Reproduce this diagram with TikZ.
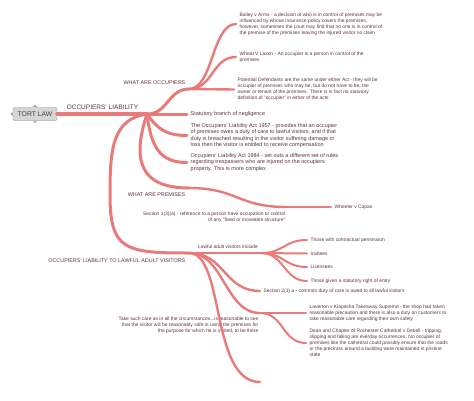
\documentclass[tikz,border=0pt]{standalone}
\usepackage{fontspec}
\setmainfont{Liberation Sans}
\definecolor{limbred}{RGB}{232,122,122}
\definecolor{inkred}{RGB}{92,52,60}
\definecolor{rootgrey}{RGB}{214,214,214}
\begin{document}
\begin{tikzpicture}
% 1pt = 1px of the 474x400 map, y runs downwards
[x=1pt,y=-1pt,line cap=round,
 limb/.style={draw=limbred,line width=#1},
 rootbox/.style={fill=rootgrey,draw=rootgrey!75!black,rounded corners=1.5pt,minimum width=44pt,minimum height=13.5pt,inner sep=0pt,text=black!72,font=\fontsize{6.8}{8}\selectfont},
 lblA/.style={anchor=east,inner sep=0pt,text=inkred,font=\fontsize{5.4}{6.4}\selectfont},
 lblB/.style={anchor=east,align=right,inner sep=0pt,text=inkred,font=\fontsize{4.9}{6.2}\selectfont},
 leafA/.style={anchor=west,align=left,inner xsep=3.5pt,inner ysep=0pt,text=inkred,font=\fontsize{5.5}{6.4}\selectfont},
 leafB/.style={anchor=west,align=left,inner xsep=3.5pt,inner ysep=0pt,text=inkred,font=\fontsize{4.9}{6.1}\selectfont}]
\useasboundingbox (0,0) rectangle (474,400);
% root
\node[rootbox] (tort) at (35,114) {TORT LAW};
\fill[rootgrey!70!black] (tort.west) ++(-0.3,-1.8) -- ++(-2,1.8) -- ++(2,1.8) -- cycle;
\fill[rootgrey!70!black] (tort.north) ++(-1.8,-0.3) -- ++(1.8,-2) -- ++(1.8,2) -- cycle;
\fill[rootgrey!70!black] (tort.south) ++(-1.8,0.3) -- ++(1.8,2) -- ++(1.8,-2) -- cycle;
% junctions
\coordinate (ol) at (147,114);
\coordinate (woc) at (189,89);
\coordinate (prem) at (189,188);
\coordinate (bend) at (110,195);
\coordinate (olv) at (189,253);
\coordinate (s13) at (286,207);
\coordinate (lav) at (261,253);
\coordinate (care) at (260,313);
\coordinate (tail) at (260,382);
% branch labels
\node[lblA,font=\fontsize{6.5}{7.5}\selectfont] (olt) at (138.5,107) {OCCUPIERS' LIABILITY};
\node[lblA] (woct) at (185.5,83) {WHAT ARE OCCUPIERS};
\node[lblA] (premt) at (185.5,195) {WHAT ARE PREMISES};
\node[lblA] (olvt) at (185.5,261) {OCCUPIERS' LIABILITY TO LAWFUL ADULT VISITORS};
\node[lblB] (s13t) at (285.5,217) {Section 1(3)(a) - reference to a person have occupation or control\\of any "fixed or moveable structure"};
\node[lblB] (lavt) at (258,247) {Lawful adult visitors include};
\node[lblB] (caret) at (258.5,325.5) {Take such care as in all the circumstances...is reasonable to see\\that the visitor will be reasonably safe in using the premises for\\the purpose for which he is invited, to be there};
% leaves
\node[leafB] (bailey) at (236,24) {Bailey v Arms - a decision of who is in control of premises may be\\influenced by whose insurance policy covers the premises,\\however, sometimes the court may find that no one is in control of\\the premise of the premises leaving the injured visitor no claim};
\node[leafB] (wheat) at (236,57) {Wheat V Laxon - An occupier is a person in control of the\\premises};
\node[leafB] (potential) at (234,89.5) {Potential Defendants are the same under either Act - they will be\\occupier of premises who may be, but do not have to be, the\\owner or tenant of the premises. There is in fact no statutory\\definition of "occupier" in either of the acts};
\node[leafA] (stat) at (187,114) {Statutory branch of negligence};
\node[leafA] (act57) at (187,135.5) {The Occupiers' Liability Act 1957 - provides that an occupier\\of premises owes a duty of care to lawful visitors, and if that\\duty is breached resulting in the visitor suffering damage or\\loss then the visitor is entitled to receive compensation};
\node[leafA] (act84) at (187,162.5) {Occupiers' Liability Act 1984 - set outs a different set of rules\\regarding trespassers who are injured on the occupiers\\property. This is more complex};
\node[leafB] (wheeler) at (331,207) {Wheeler v Copas};
\node[leafB] (sec21) at (260,291) {Section 2(1) a - common duty of care is owed to all lawful visitors};
\node[leafB] (laverton) at (306,313) {Laverton v Kiapasha Takeaway Supreme - the shop had taken\\reasonable precaution and there is also a duty on customers to\\take reasonable care regarding their own safety};
\node[leafB] (dean) at (306,343) {Dean and Chapter of Rochester Cathedral v Debell - tripping,\\slipping and falling are everday occurrences. No occupier of\\premises like the cathedral could possibly ensure that the roads\\or the precincts around a building were maintained in pristine\\state};
% limbs
\draw[limb=3.8] (tort.east) -- (ol);
\draw[limb=3] (ol) .. controls +(21,0) and +(-21,0) .. (woc);
\draw[limb=3] (ol) -- (stat.west);
\draw[limb=3] (ol) .. controls +(10,14) and +(-22,0) .. (act57.west);
\draw[limb=3] (ol) .. controls +(4,32) and +(-28,0) .. (act84.west);
\draw[limb=3] (ol) .. controls +(-15,45) and +(-50,0) .. (prem);
\draw[limb=3] (ol) .. controls +(-35,5) and +(0,-45) .. (bend) .. controls +(0,55) and +(-64,0) .. (olv);
\draw[limb=2.4] (woc) .. controls +(24,0) and +(-24,0) .. (bailey.west);
\draw[limb=2.4] (woc) .. controls +(24,0) and +(-24,0) .. (wheat.west);
\draw[limb=2.4] (woc) -- (potential.west);
\draw[limb=2.4] (prem) .. controls +(48,0) and +(-48,0) .. (s13);
\draw[limb=2] (s13) -- (wheeler.west);
\draw[limb=2.4] (olv) -- (lav);
\draw[limb=2.4] (olv) .. controls +(36,0) and +(-36,0) .. (sec21.west);
\draw[limb=2.4] (olv) .. controls +(35,0) and +(-35,0) .. (care);
\draw[limb=2.4] (olv) .. controls +(36,0) and +(-50,0) .. (tail);
\draw[limb=2] (care) -- (laverton.west);
\draw[limb=2] (care) .. controls +(24,0) and +(-24,0) .. (dean.west);
% 240, 253.5, 267, 281 = rows of the visitor kinds
\foreach \kind/\yy [count=\i] in {Those with contractual permission/240,Invitees/253.5,Licensees/267,Those given a statutory right of entry/281}{
  \node[leafB] (kind\i) at (307,\yy) {\kind};
  \draw[limb=2] (lav) .. controls +(23,0) and +(-23,0) .. (kind\i.west);
}
\end{tikzpicture}
\end{document}
